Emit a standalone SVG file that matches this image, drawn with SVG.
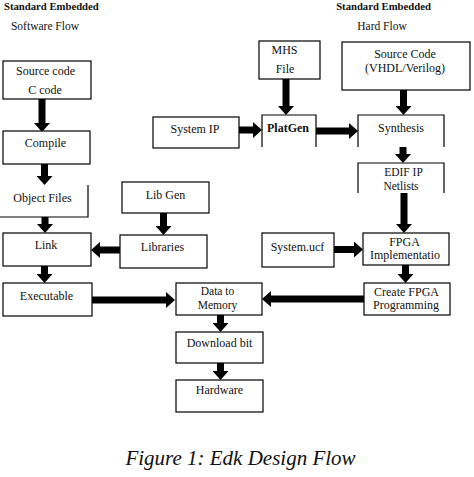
<svg xmlns="http://www.w3.org/2000/svg" width="474" height="477" viewBox="0 0 474 477">
<style>
.box{fill:#fff;stroke:#000;stroke-width:1.2}
.open{fill:none;stroke:#000;stroke-width:1.2}
.t{font-family:"Liberation Serif","Times New Roman",serif;font-size:12px;fill:#111;text-anchor:middle}
.s{font-size:11.5px}
.h{font-family:"Liberation Serif","Times New Roman",serif;font-size:11.5px;fill:#111}
.hb{font-weight:bold;font-size:10.7px}
.cap{font-family:"Liberation Serif","Times New Roman",serif;font-size:21px;font-style:italic;fill:#111;text-anchor:middle}
.ar{stroke:#000;stroke-width:7;fill:none;marker-end:url(#ah)}
</style>
<defs>
<marker id="ah" markerUnits="userSpaceOnUse" markerWidth="9" markerHeight="16" viewBox="0 0 9 16" refX="0" refY="8" orient="auto">
<path d="M0,0 L9,8 L0,16 Z" fill="#000"/>
</marker>
</defs>
<rect width="474" height="477" fill="#fff"/>
<g id="headings">
<text class="h hb" x="4" y="10">Standard Embedded</text>
<text class="h" x="45" y="30" text-anchor="middle">Software Flow</text>
<text class="h hb" x="383.5" y="10" text-anchor="middle">Standard Embedded</text>
<text class="h" x="382" y="30" text-anchor="middle">Hard Flow</text>
</g>
<g id="connectors">
<line class="ar" x1="42" y1="99" x2="42" y2="123"/>
<line class="ar" x1="44.5" y1="164" x2="44.5" y2="176"/>
<line class="ar" x1="45" y1="217" x2="45" y2="224"/>
<line class="ar" x1="44.5" y1="266" x2="44.5" y2="274"/>
<line class="ar" x1="163.5" y1="213" x2="163.5" y2="226"/>
<line class="ar" x1="120" y1="250" x2="100" y2="250"/>
<line class="ar" x1="92" y1="300" x2="166" y2="300"/>
<line class="ar" x1="364" y1="299" x2="271" y2="299"/>
<line class="ar" x1="220.5" y1="315" x2="220.5" y2="323"/>
<line class="ar" x1="220.5" y1="363" x2="220.5" y2="371"/>
<line class="ar" x1="286" y1="79" x2="286" y2="106"/>
<line class="ar" x1="239" y1="130" x2="253" y2="130"/>
<line class="ar" x1="316" y1="131" x2="349" y2="131"/>
<line class="ar" x1="403.5" y1="90" x2="403.5" y2="106"/>
<line class="ar" x1="403" y1="147" x2="403" y2="154"/>
<line class="ar" x1="404" y1="193" x2="404" y2="224"/>
<line class="ar" x1="334" y1="249.5" x2="354" y2="249.5"/>
<line class="ar" x1="405.5" y1="265" x2="405.5" y2="274"/>
</g>
<g id="source-code">
<rect class="box" x="3" y="61" width="88" height="38"/>
<text class="t" x="45.5" y="75">Source code</text>
<text class="t" x="45" y="94">C code</text>
</g>
<g id="compile">
<rect class="box" x="3" y="131" width="87" height="33"/>
<text class="t" x="45.5" y="147">Compile</text>
</g>
<g id="object-files">
<path class="open" d="M88,185 V217 H0"/>
<text class="t" x="42.5" y="202">Object Files</text>
</g>
<g id="link">
<rect class="box" x="3" y="233" width="88" height="33"/>
<text class="t" x="46" y="249">Link</text>
</g>
<g id="executable">
<rect class="box" x="3" y="283" width="89" height="33"/>
<text class="t" x="46.5" y="300">Executable</text>
</g>
<g id="lib-gen">
<rect class="box" x="122" y="182" width="87" height="31"/>
<text class="t" x="165.5" y="199">Lib Gen</text>
</g>
<g id="libraries">
<rect class="box" x="120" y="235" width="87" height="33"/>
<text class="t" x="162.5" y="251">Libraries</text>
</g>
<g id="system-ip">
<rect class="box" x="153" y="117" width="86" height="31"/>
<text class="t" x="195" y="133">System IP</text>
</g>
<g id="mhs-file">
<rect class="box" x="259" y="41" width="61" height="38"/>
<text class="t" x="284.5" y="54">MHS</text>
<text class="t" x="285" y="73">File</text>
</g>
<g id="platgen">
<path class="open" d="M262,147 V115 H316 V147"/>
<text class="t" x="288" y="132" font-weight="bold">PlatGen</text>
</g>
<g id="source-code-hdl">
<rect class="box" x="342" y="42" width="128" height="48"/>
<text class="t" x="405" y="58">Source Code</text>
<text class="t" x="405" y="72">(VHDL/Verilog)</text>
</g>
<g id="synthesis">
<path class="open" d="M358,147 V115 H444 V147"/>
<text class="t" x="401" y="132">Synthesis</text>
</g>
<g id="edif-ip-netlists">
<path class="open" d="M358,193 V163 H444 V193"/>
<text class="t s" x="403.5" y="176">EDIF IP</text>
<text class="t s" x="401" y="189.5">Netlists</text>
</g>
<g id="system-ucf">
<rect class="box" x="262" y="233" width="72" height="34"/>
<text class="t" x="297.5" y="251">System.ucf</text>
</g>
<g id="fpga-implementation">
<rect class="box" x="363" y="233" width="86" height="32"/>
<text class="t" x="404.5" y="246">FPGA</text>
<text class="t" x="405" y="259">Implementatio</text>
</g>
<g id="create-fpga-programming">
<rect class="box" x="364" y="283" width="86" height="32"/>
<text class="t" x="406.5" y="296">Create FPGA</text>
<text class="t" x="406" y="309">Programming</text>
</g>
<g id="data-to-memory">
<rect class="box" x="176" y="283" width="86" height="32"/>
<text class="t s" x="217.5" y="295">Data to</text>
<text class="t s" x="217.5" y="308.5">Memory</text>
</g>
<g id="download-bit">
<rect class="box" x="176" y="332" width="87" height="31"/>
<text class="t" x="219.5" y="347">Download bit</text>
</g>
<g id="hardware">
<rect class="box" x="176" y="380" width="87" height="32"/>
<text class="t" x="219.5" y="394">Hardware</text>
</g>
<text class="cap" x="240.5" y="465">Figure 1: Edk Design Flow</text>
</svg>
